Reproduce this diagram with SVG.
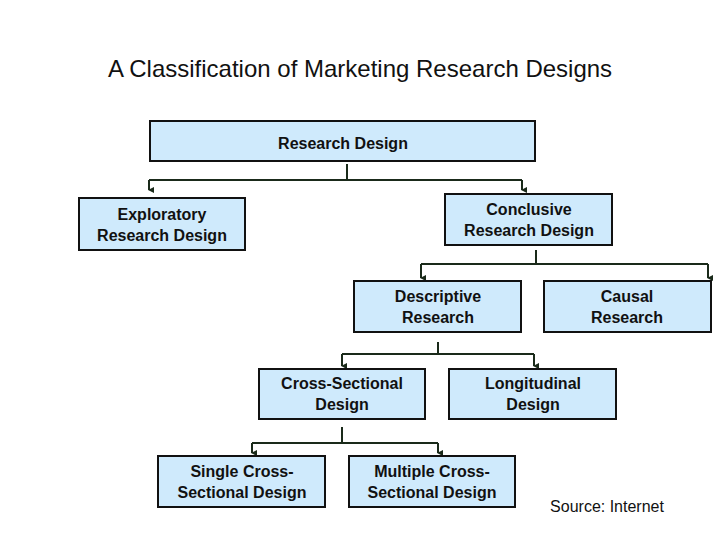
<svg xmlns="http://www.w3.org/2000/svg" width="720" height="540" viewBox="0 0 720 540">
<style>
.b{fill:#cfeafc;stroke:#111;stroke-width:2}
.t{font-family:"Liberation Sans",Arial,sans-serif;font-weight:bold;font-size:16px;fill:#111;text-anchor:middle}
.c{fill:none;stroke:#1a2a1a;stroke-width:2}
</style>
<defs><marker id="a" markerWidth="6" markerHeight="6" refX="3" refY="5" orient="auto-start-reverse" markerUnits="userSpaceOnUse"><path d="M0,0 L6,0 L3,6 Z" fill="#1a2a1a" transform="rotate(0)"/></marker></defs>
<rect width="720" height="540" fill="#fff"/>
<text x="360" y="77" font-family="Liberation Sans,Arial,sans-serif" font-size="24" text-anchor="middle" fill="#111">A Classification of Marketing Research Designs</text>
<g id="connectors">
<path class="c" d="M347,164 V180 M149,180 H522"/>
<path class="c" d="M149,180 V190" marker-end="url(#a)"/><path class="c" d="M522,180 V190" marker-end="url(#a)"/>
<path class="c" d="M536,250 V264 M421,264 H708"/>
<path class="c" d="M421,264 V278" marker-end="url(#a)"/><path class="c" d="M708,264 V278" marker-end="url(#a)"/>
<path class="c" d="M438,342 V354 M342,354 H534"/>
<path class="c" d="M342,354 V366" marker-end="url(#a)"/><path class="c" d="M534,354 V366" marker-end="url(#a)"/>
<path class="c" d="M342,427 V443 M252,443 H438"/>
<path class="c" d="M252,443 V453" marker-end="url(#a)"/><path class="c" d="M438,443 V453" marker-end="url(#a)"/>
</g>
<g id="root"><rect class="b" x="150" y="121" width="385" height="40"/><text class="t" x="343" y="149">Research Design</text></g>
<g id="exploratory"><rect class="b" x="79" y="198" width="166" height="52"/><text class="t" x="162" y="220">Exploratory</text><text class="t" x="162" y="241">Research Design</text></g>
<g id="conclusive"><rect class="b" x="445" y="194" width="167" height="51"/><text class="t" x="529" y="215">Conclusive</text><text class="t" x="529" y="236">Research Design</text></g>
<g id="descriptive"><rect class="b" x="354" y="281" width="167" height="51"/><text class="t" x="438" y="302">Descriptive</text><text class="t" x="438" y="323">Research</text></g>
<g id="causal"><rect class="b" x="544" y="281" width="167" height="51"/><text class="t" x="627" y="302">Causal</text><text class="t" x="627" y="323">Research</text></g>
<g id="cross"><rect class="b" x="259" y="369" width="166" height="50"/><text class="t" x="342" y="389">Cross-Sectional</text><text class="t" x="342" y="410">Design</text></g>
<g id="longitudinal"><rect class="b" x="449" y="369" width="167" height="50"/><text class="t" x="533" y="389">Longitudinal</text><text class="t" x="533" y="410">Design</text></g>
<g id="single"><rect class="b" x="158" y="456" width="167" height="51"/><text class="t" x="242" y="477">Single Cross-</text><text class="t" x="242" y="498">Sectional Design</text></g>
<g id="multiple"><rect class="b" x="349" y="456" width="166" height="51"/><text class="t" x="432" y="477">Multiple Cross-</text><text class="t" x="432" y="498">Sectional Design</text></g>
<text x="607" y="512" font-family="Liberation Sans,Arial,sans-serif" font-size="16" text-anchor="middle" fill="#111">Source: Internet</text>
</svg>
